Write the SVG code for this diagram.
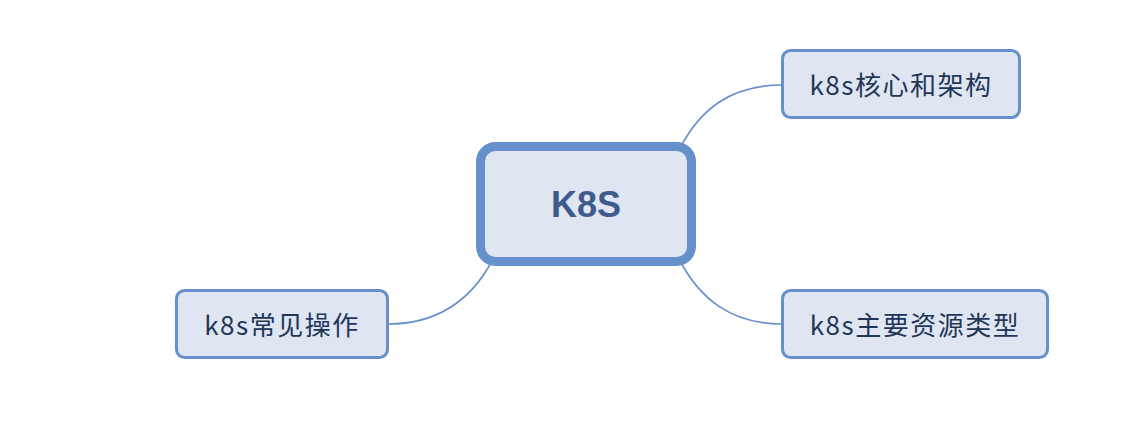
<svg xmlns="http://www.w3.org/2000/svg" width="1142" height="426" viewBox="0 0 1142 426">
<style>
.conn{fill:none;stroke:#6690cc;stroke-width:1.6}
.node rect{fill:#dfe6f1;stroke:#6690cc;stroke-width:3}
.node text{font-family:"Noto Sans CJK SC","Noto Sans",sans-serif;font-size:26px;letter-spacing:1.5px;fill:#1f3658;text-anchor:middle}
#root rect{stroke-width:9}
#root text{font-family:"Liberation Sans","Noto Sans",sans-serif;font-weight:bold;font-size:36px;letter-spacing:0;fill:#3f5b8c}
</style>
<rect width="1142" height="426" fill="#ffffff"/>
<g id="connectors">
<path class="conn" d="M680,148 C700,110 730,85 782,85"/>
<path class="conn" d="M680,261 C700,298 730,324 782,324"/>
<path class="conn" d="M492,261 C472,298 440,324 388,324"/>
</g>
<g id="root" class="node">
<rect x="480.5" y="146.5" width="211" height="115" rx="15"/>
<text x="586" y="217">K8S</text>
</g>
<g id="n1" class="node">
<rect x="782.5" y="50.5" width="237" height="67" rx="8"/>
<text x="901" y="95">k8s核心和架构</text>
</g>
<g id="n2" class="node">
<rect x="782.5" y="290.5" width="265" height="67" rx="8"/>
<text x="915" y="335">k8s主要资源类型</text>
</g>
<g id="n3" class="node">
<rect x="176.5" y="290.5" width="211" height="67" rx="8"/>
<text x="282" y="335">k8s常见操作</text>
</g>
</svg>
